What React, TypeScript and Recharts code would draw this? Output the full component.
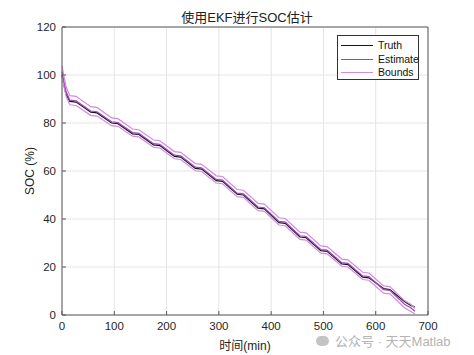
import { LineChart, Line, XAxis, YAxis, CartesianGrid, Legend } from 'recharts';

// sample times (min), denser at the steps
const timeMin = [0, 4, 8, 15, 27, 55, 67, 95, 107, 135, 147, 175, 187, 215, 227, 255, 267, 295, 307, 335, 347, 375, 387, 415, 427, 455, 467, 495, 507, 535, 547, 575, 587, 615, 627, 655, 667, 675];

const truthSoc = [100, 95.5, 92, 89.0, 88.7, 84.5, 84.2, 80.0, 79.7, 75.5, 75.2, 70.9, 70.6, 66.1, 65.8, 61.1, 60.8, 56.0, 55.7, 50.3, 50.0, 44.5, 44.2, 38.5, 38.2, 32.5, 32.2, 26.8, 26.5, 21.3, 21.0, 15.8, 15.5, 11.0, 10.6, 5.6, 4.0, 3.3];

const estimateSoc = [101.5, 97, 93, 89.5, 89.2, 85.0, 84.7, 80.5, 80.2, 76.0, 75.7, 71.4, 71.1, 66.6, 66.3, 61.6, 61.3, 56.5, 56.2, 50.8, 50.5, 45.0, 44.7, 39.0, 38.7, 33.0, 32.7, 27.3, 27.0, 21.8, 21.5, 16.3, 16.0, 10.6, 10.3, 4.5, 3.0, 1.6];

const upperBound = [103.8, 99.2, 95.0, 91.4, 91.1, 86.8, 86.5, 82.1, 81.8, 77.5, 77.2, 72.9, 72.6, 68.1, 67.8, 63.1, 62.8, 58.0, 57.7, 52.3, 52.0, 46.5, 46.2, 40.5, 40.2, 34.5, 34.2, 28.8, 28.5, 23.3, 23.0, 17.8, 17.5, 12.1, 11.8, 6.0, 4.5, 2.8];

const lowerBound = [99.2, 94.8, 91.0, 87.6, 87.3, 83.2, 82.9, 78.9, 78.6, 74.5, 74.2, 69.9, 69.6, 65.1, 64.8, 60.1, 59.8, 55.0, 54.7, 49.3, 49.0, 43.5, 43.2, 37.5, 37.2, 31.5, 31.2, 25.8, 25.5, 20.3, 20.0, 14.8, 14.5, 9.1, 8.8, 3.0, 1.5, 0.5];

const xTicks = [0, 100, 200, 300, 400, 500, 600, 700];
const yTicks = [0, 20, 40, 60, 80, 100, 120];
const legendOrder = ['Truth', 'Estimate', 'Bounds'];

const chartData = timeMin.map((t, i) => ({
  t,
  truth: truthSoc[i],
  estimate: estimateSoc[i],
  upper: upperBound[i],
  lower: lowerBound[i],
}));

const FONT = '"Liberation Sans", Arial, "Noto Sans CJK SC", sans-serif';
const AXIS = '#5a5a5a';
const tickStyle = { fontSize: 11.5, fill: '#262626', fontFamily: FONT };

const LegendBox = (props: any) => {
  const items = props.payload || [];
  return (
    <div style={{ position: 'relative', width: 80, height: 43, border: '1px solid #333', background: '#fff', fontFamily: FONT, fontSize: 10.5, color: '#111' }}>
      {legendOrder.map((name, i) => {
        const it = items.find((p: any) => p.value === name);
        if (!it) return null;
        const top = 9 + i * 13.5;
        return (
          <div key={name}>
            <div style={{ position: 'absolute', left: 3, top, width: 32, height: 1, background: it.color }} />
            <span style={{ position: 'absolute', left: 40, top: top - 7, whiteSpace: 'nowrap', lineHeight: '14px' }}>{name}</span>
          </div>
        );
      })}
    </div>
  );
};

export default function App() {
  return (
    <div style={{ position: 'absolute', left: 0, top: 0, width: 474, height: 355, background: '#fff', fontFamily: FONT }}>
      <div style={{ position: 'absolute', left: 0, width: 474, top: 7, textAlign: 'center', fontSize: 13, color: '#222', paddingLeft: 20, boxSizing: 'border-box' }}>
        使用EKF进行SOC估计
      </div>
      <LineChart width={474} height={355} data={chartData} margin={{ top: 22, right: 36, bottom: 10, left: 22 }}>
        <CartesianGrid stroke="#e4e4e4" />
        <XAxis dataKey="t" type="number" domain={[0, 700]} ticks={xTicks} height={30}
          stroke={AXIS} tickSize={-4} tickMargin={11} tick={tickStyle} interval={0} />
        <XAxis xAxisId="top" orientation="top" type="number" domain={[0, 700]} ticks={xTicks} height={5}
          stroke={AXIS} tickSize={-4} tick={false} allowDataOverflow />
        <YAxis type="number" domain={[0, 120]} ticks={yTicks} width={40}
          stroke={AXIS} tickSize={-4} tickMargin={10} tick={tickStyle} interval={0} />
        <YAxis yAxisId="right" orientation="right" type="number" domain={[0, 120]} ticks={yTicks} width={10}
          stroke={AXIS} tickSize={-4} tick={false} allowDataOverflow />
        <Legend layout="horizontal" align="center" verticalAlign="middle" content={LegendBox}
          wrapperStyle={{ position: 'absolute', left: 337, top: 35, width: 82, height: 45 }} />
        <Line dataKey="truth" name="Truth" stroke="#151515" strokeWidth={1.2} dot={false} isAnimationActive={false} />
        <Line dataKey="estimate" name="Estimate" stroke="#9a48b8" strokeWidth={1.2} dot={false} isAnimationActive={false} />
        <Line dataKey="upper" name="Bounds" stroke="#d48ae0" strokeWidth={1.2} dot={false} isAnimationActive={false} />
        <Line dataKey="lower" name="Lower" legendType="none" stroke="#d48ae0" strokeWidth={1.2} dot={false} isAnimationActive={false} />
      </LineChart>
      <div style={{ position: 'absolute', left: 30, top: 171, transform: 'translate(-50%, -50%) rotate(-90deg)', fontSize: 12, color: '#222', whiteSpace: 'nowrap' }}>
        SOC (%)
      </div>
      <div style={{ position: 'absolute', left: 245, top: 336, transform: 'translateX(-50%)', fontSize: 12, color: '#222', whiteSpace: 'nowrap' }}>
        时间(min)
      </div>
      <div style={{ position: 'absolute', left: 316, top: 331, fontSize: 13, color: '#b4b4b4', whiteSpace: 'nowrap', display: 'flex', alignItems: 'center' }}>
        <span style={{ display: 'inline-block', width: 13, height: 10, borderRadius: 5, background: '#c4c4c4', marginRight: 6 }} />
        公众号 · 天天Matlab
      </div>
    </div>
  );
}
